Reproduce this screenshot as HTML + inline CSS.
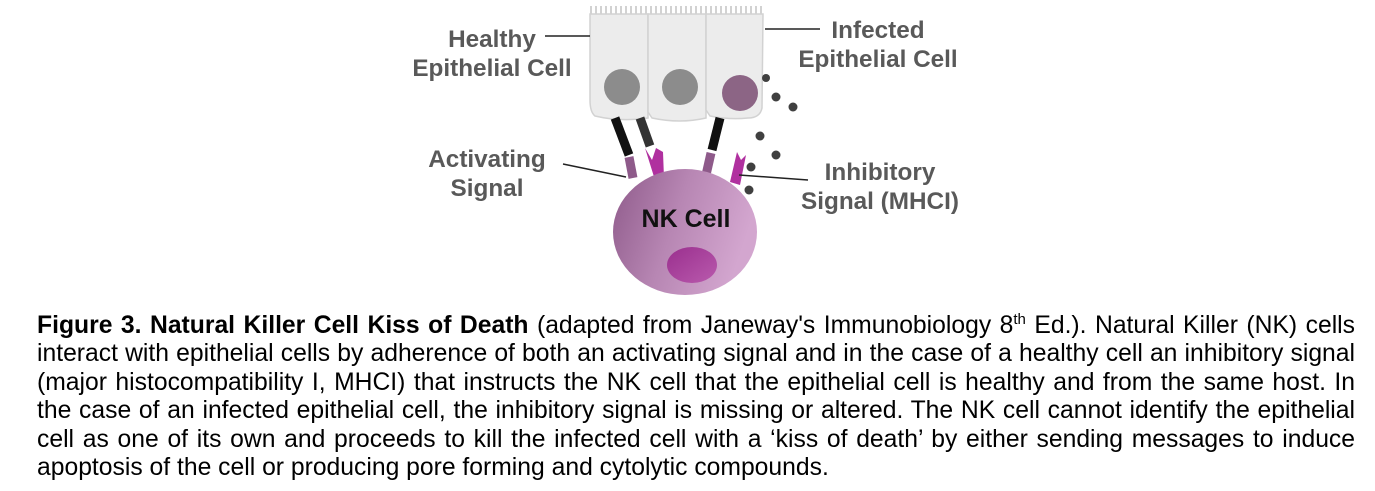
<!DOCTYPE html>
<html><head><meta charset="utf-8"><style>
body{margin:0;width:1375px;height:491px;background:#fff;position:relative;overflow:hidden;font-family:"Liberation Sans",Arial,sans-serif}
.cap{position:absolute;left:37px;width:1318px;top:312px;font-size:24.7px;line-height:28.4px;color:#000}
.cap div{text-align:justify;text-align-last:justify;white-space:nowrap}
.cap div.last{text-align-last:left}
.lbl{position:absolute;font-weight:bold;font-size:24.3px;color:#595959;text-align:center;line-height:29px;white-space:nowrap}
</style></head><body>
<svg width="1375" height="300" style="position:absolute;left:0;top:0">
<defs>
<linearGradient id="nk" x1="0" y1="0" x2="1" y2="0.3"><stop offset="0" stop-color="#8e5a8a"/><stop offset="0.5" stop-color="#b786b3"/><stop offset="1" stop-color="#d3a6cf"/></linearGradient>
<linearGradient id="nn" x1="0" y1="0" x2="1" y2="1"><stop offset="0" stop-color="#9a2f8e"/><stop offset="1" stop-color="#b95aad"/></linearGradient>
</defs>
<g fill="#ececec" stroke="#d2d2d2" stroke-width="1.5">
<path d="M590 14 L648 14 L648 118 Q620 122 595 116 Q590 112 590 100 Z"/>
<path d="M648 14 L706 14 L706 118 Q680 124 652 118 L648 112 Z"/>
<path d="M706 14 L763 14 L762 108 Q760 118 748 118 Q730 120 710 116 L706 110 Z"/>
</g>
<g stroke="#d2d2d2" stroke-width="2" fill="none">
<path d="M591 14 v-8 m5 8 v-8 m5 8 v-8 m5 8 v-8 m5 8 v-8 m5 8 v-8 m5 8 v-8 m5 8 v-8 m5 8 v-8 m5 8 v-8 m5 8 v-8 m5 8 v-8 m5 8 v-8 m5 8 v-8 m5 8 v-8 m5 8 v-8 m5 8 v-8 m5 8 v-8 m5 8 v-8 m5 8 v-8 m5 8 v-8 m5 8 v-8 m5 8 v-8 m5 8 v-8 m5 8 v-8 m5 8 v-8 m5 8 v-8 m5 8 v-8 m5 8 v-8 m5 8 v-8 m5 8 v-8 m5 8 v-8 m5 8 v-8 m5 8 v-8 m5 8 v-8"/>
</g>
<circle cx="622" cy="87" r="18" fill="#8c8c8c"/>
<circle cx="680" cy="87" r="18" fill="#8c8c8c"/>
<circle cx="740" cy="93" r="18" fill="#8c6585"/>
<g stroke-linecap="butt">
<line x1="615" y1="118" x2="629" y2="155" stroke="#111" stroke-width="9"/>
<line x1="629" y1="157" x2="633" y2="178" stroke="#8e5a8a" stroke-width="9"/>
<line x1="640" y1="118" x2="650" y2="146" stroke="#333" stroke-width="9"/>
<line x1="720" y1="118" x2="712" y2="150" stroke="#111" stroke-width="9"/>
<line x1="711" y1="153" x2="706" y2="175" stroke="#8e5a8a" stroke-width="9"/>
</g>
<path d="M645 148 L652 160 L656 148 L663 152 L664 178 L655 180 Z" fill="#b0309f"/>
<path d="M737 152 L741 160 L746 155 L740 185 L730 182 Z" fill="#b0309f"/>
<ellipse cx="685" cy="232" rx="72" ry="63" fill="url(#nk)"/>
<ellipse cx="692" cy="265" rx="25" ry="18" fill="url(#nn)"/>
<text x="686" y="227" font-family="Liberation Sans,Arial,sans-serif" font-weight="bold" font-size="25" text-anchor="middle" fill="#111">NK Cell</text>
<g fill="#404040">
<circle cx="766" cy="78" r="4"/><circle cx="776" cy="97" r="4.5"/><circle cx="793" cy="107" r="4.5"/>
<circle cx="760" cy="136" r="4.5"/><circle cx="776" cy="155" r="4.5"/><circle cx="751" cy="167" r="4.5"/><circle cx="749" cy="190" r="4.5"/>
</g>
<g stroke="#222" stroke-width="1.5">
<line x1="545" y1="36" x2="590" y2="36"/>
<line x1="765" y1="29" x2="820" y2="29"/>
<line x1="563" y1="164" x2="626" y2="177"/>
<line x1="739" y1="175" x2="808" y2="180"/>
</g>
</svg>
<div class="lbl" style="left:392px;top:25px;width:200px">Healthy<br>Epithelial Cell</div>
<div class="lbl" style="left:778px;top:16px;width:200px">Infected<br>Epithelial Cell</div>
<div class="lbl" style="left:397px;top:145px;width:180px">Activating<br>Signal</div>
<div class="lbl" style="left:780px;top:158px;width:200px">Inhibitory<br>Signal (MHCI)</div>
<div class="cap">
<div><b>Figure 3. Natural Killer Cell Kiss of Death</b> (adapted from Janeway's Immunobiology 8<sup style="font-size:15px;line-height:0">th</sup> Ed.). Natural Killer (NK) cells</div>
<div>interact with epithelial cells by adherence of both an activating signal and in the case of a healthy cell an inhibitory signal</div>
<div>(major histocompatibility I, MHCI) that instructs the NK cell that the epithelial cell is healthy and from the same host. In</div>
<div>the case of an infected epithelial cell, the inhibitory signal is missing or altered. The NK cell cannot identify the epithelial</div>
<div>cell as one of its own and proceeds to kill the infected cell with a ‘kiss of death’ by either sending messages to induce</div>
<div class="last">apoptosis of the cell or producing pore forming and cytolytic compounds.</div>
</div>
</body></html>
